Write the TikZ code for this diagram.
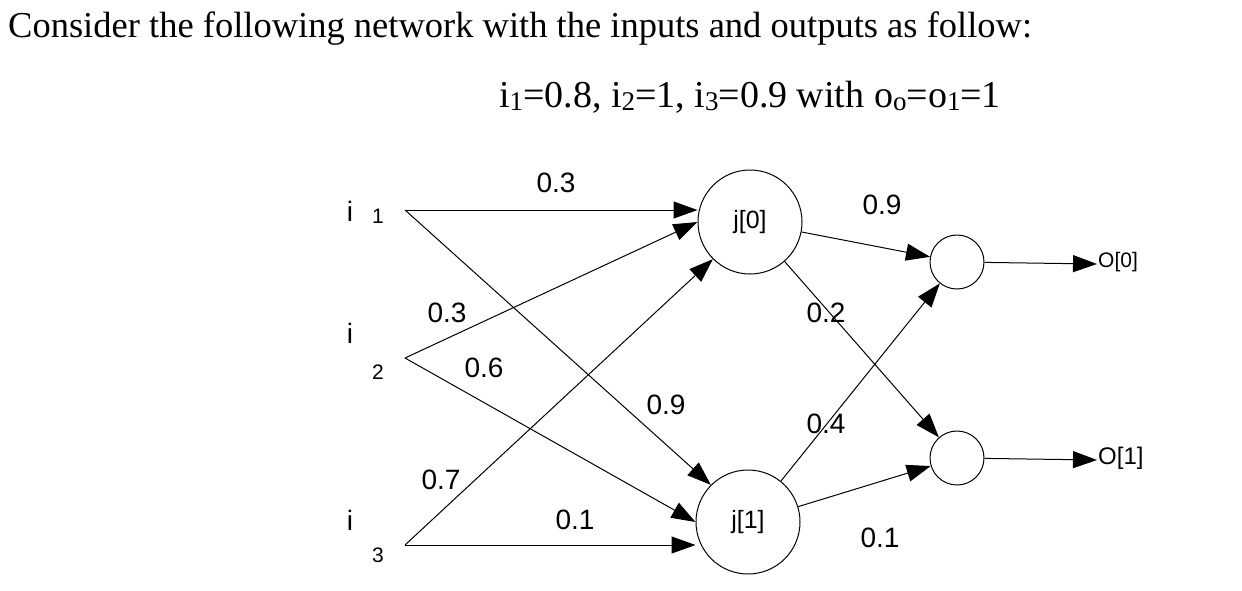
\documentclass[tikz,border=0pt]{standalone}
\usepackage{fontspec}
\setmainfont{Liberation Serif}
\newfontfamily\lsans{Liberation Sans}
\usetikzlibrary{arrows.meta}
\newcommand{\lsub}[1]{\raisebox{-0.2ex}{\fontsize{27}{30}\selectfont #1}}
\begin{document}
\begin{tikzpicture}[x=1pt,y=-1pt,
  arr/.style={line width=1pt,-{Triangle[length=24pt,width=17pt]}},
  big/.style={circle,draw,line width=1pt,minimum size=104pt,inner sep=0pt,font=\lsans\fontsize{25}{28}\selectfont},
  small/.style={circle,draw,line width=1pt,minimum size=54pt,inner sep=0pt},
  lab/.style={font=\lsans\fontsize{28}{30}\selectfont,inner sep=0pt},
  sub/.style={font=\lsans\fontsize{21}{23}\selectfont,inner sep=0pt}]
\useasboundingbox (0,0) rectangle (1242,590);
\node[anchor=base west,inner sep=0pt,font=\fontsize{36.5}{40}\selectfont] (title) at (8,37) {Consider the following network with the inputs and outputs as follow:};
\node[anchor=base,inner sep=0pt,font=\fontsize{38}{42}\selectfont] (given) at (750,107) {i\lsub{1}=0.8, i\lsub{2}=1, i\lsub{3}=0.9 with o\lsub{o}=o\lsub{1}=1};
\node[big] (j0) at (750,222) {j[0]};
\node[big] (j1) at (748,522) {j[1]};
\node[small] (k0) at (957,262) {};
\node[small] (k1) at (957,458) {};
\coordinate (i1) at (405,210);
\coordinate (i2) at (405,358);
\coordinate (i3) at (405,545);
\node[lab] (li1) at (350,211) {i};
\node[sub] (si1) at (378,216) {1};
\node[lab] (li2) at (350,333) {i};
\node[sub] (si2) at (378,372) {2};
\node[lab] (li3) at (350,520) {i};
\node[sub] (si3) at (378,555) {3};
\draw[arr] (i1) -- (j0.west |- i1);
\draw[arr] (i1) -- (j1.north west);
\draw[arr] (i2) -- (j0.west);
\draw[arr] (i2) -- (j1.west);
\draw[arr] (i3) -- (j0.south west);
\draw[arr] (i3) -- (j1.west |- i3);
\draw[arr] (j0) -- (k0);
\draw[arr] (j0) -- (k1);
\draw[arr] (j1) -- (k0);
\draw[arr] (j1) -- (k1);
\coordinate (o0) at (1097,264);
\coordinate (o1) at (1097,460);
\draw[arr] (k0) -- (o0);
\draw[arr] (k1) -- (o1);
\node[anchor=west,font=\lsans\fontsize{21}{22}\selectfont,inner sep=0pt] (lo0) at (1098,262) {O[0]};
\node[anchor=west,font=\lsans\fontsize{24}{26}\selectfont,inner sep=0pt] (lo1) at (1098,458) {O[1]};
\node[lab] (w1) at (556,183) {0.3};
\node[lab] (w2) at (447,313) {0.3};
\node[lab] (w3) at (484,368) {0.6};
\node[lab] (w4) at (666,405) {0.9};
\node[lab] (w5) at (441,480) {0.7};
\node[lab] (w6) at (575,520) {0.1};
\node[lab] (w7) at (882,205) {0.9};
\node[lab] (w8) at (826,313) {0.2};
\node[lab] (w9) at (826,424) {0.4};
\node[lab] (w10) at (880,538) {0.1};
\end{tikzpicture}
\end{document}
